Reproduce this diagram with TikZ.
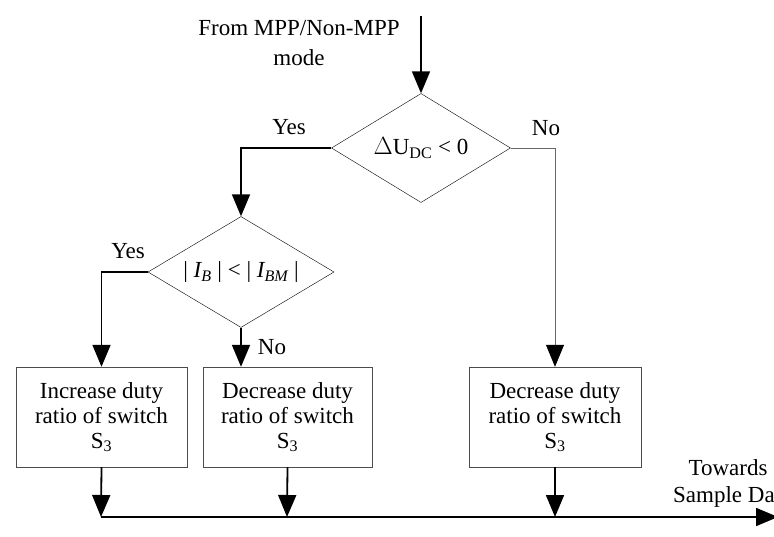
\documentclass[tikz,border=0pt]{standalone}
\usepackage{fontspec}
\setmainfont{Liberation Serif}
\usetikzlibrary{shapes.geometric,arrows.meta}
\begin{document}
\begin{tikzpicture}[x=1pt,y=-1pt,
  every node/.style={font=\fontsize{23}{25}\selectfont},
  box/.style={draw=black!70, minimum height=100pt, align=center, inner sep=0pt},
  tip/.style={-{Triangle[length=22pt,width=18pt]}},
  ar/.style={line width=1.8pt, tip},
  dia/.style={draw, diamond, inner sep=0pt},
  lbl/.style={align=center, inner sep=0pt}]
\useasboundingbox (0,0) rectangle (774,537);
\fill[white] (0,0) rectangle (774,537);
\node[lbl, font=\fontsize{23}{30}\selectfont] (from) at (299,43) {From MPP/Non-MPP\\mode};
\coordinate (st) at (421,16);
\node[dia, minimum width=179pt, minimum height=109pt] (d1) at (421,148) {};
\node[lbl] (t1) at (d1.center) {$\Delta$U\textsubscript{DC} < 0};
\node[dia, minimum width=186pt, minimum height=111pt] (d2) at (241,272) {};
\node[lbl] (t2) at (d2.center) {| \textit{I\textsubscript{B}} | < | \textit{I\textsubscript{BM}} |};
\node[box, minimum width=171pt] (b1) at (101.5,417) {Increase duty\\ratio of switch\\S\textsubscript{3}};
\node[box, minimum width=169pt] (b2) at (287.5,417) {Decrease duty\\ratio of switch\\S\textsubscript{3}};
\node[box, minimum width=172pt] (b3) at (555,417) {Decrease duty\\ratio of switch\\S\textsubscript{3}};
\coordinate (m1) at (101,517);
\coordinate (m2) at (287,517);
\coordinate (m3) at (555,517);
\coordinate (end) at (778,517);
\draw[ar] (st) -- (d1.north);
\draw[ar] (d1.west) -| (d2.north);
\draw[draw=black!60, line width=0.8pt, -{Triangle[length=22pt,width=18pt,fill=black,color=black]}] (d1.east) -| (b3.north);
\draw[ar] (d2.west) -| (b1.north);
\draw[ar] (d2.south) -- (d2.south |- b2.north);
\draw[ar] (b1.south) -- (m1);
\draw[ar] (b2.south) -- (m2);
\draw[ar] (b3.south) -- (m3);
\draw[ar] (m1) -- (end);
\node[lbl] (y1) at (289,127) {Yes};
\node[lbl] (n1) at (546,128) {No};
\node[lbl] (y2) at (128,251) {Yes};
\node[lbl] (n2) at (272,347) {No};
\node[lbl] (tw) at (728,468) {Towards};
\node[lbl, anchor=west] (sd) at (673,497) {Sample Data};
\end{tikzpicture}
\end{document}
